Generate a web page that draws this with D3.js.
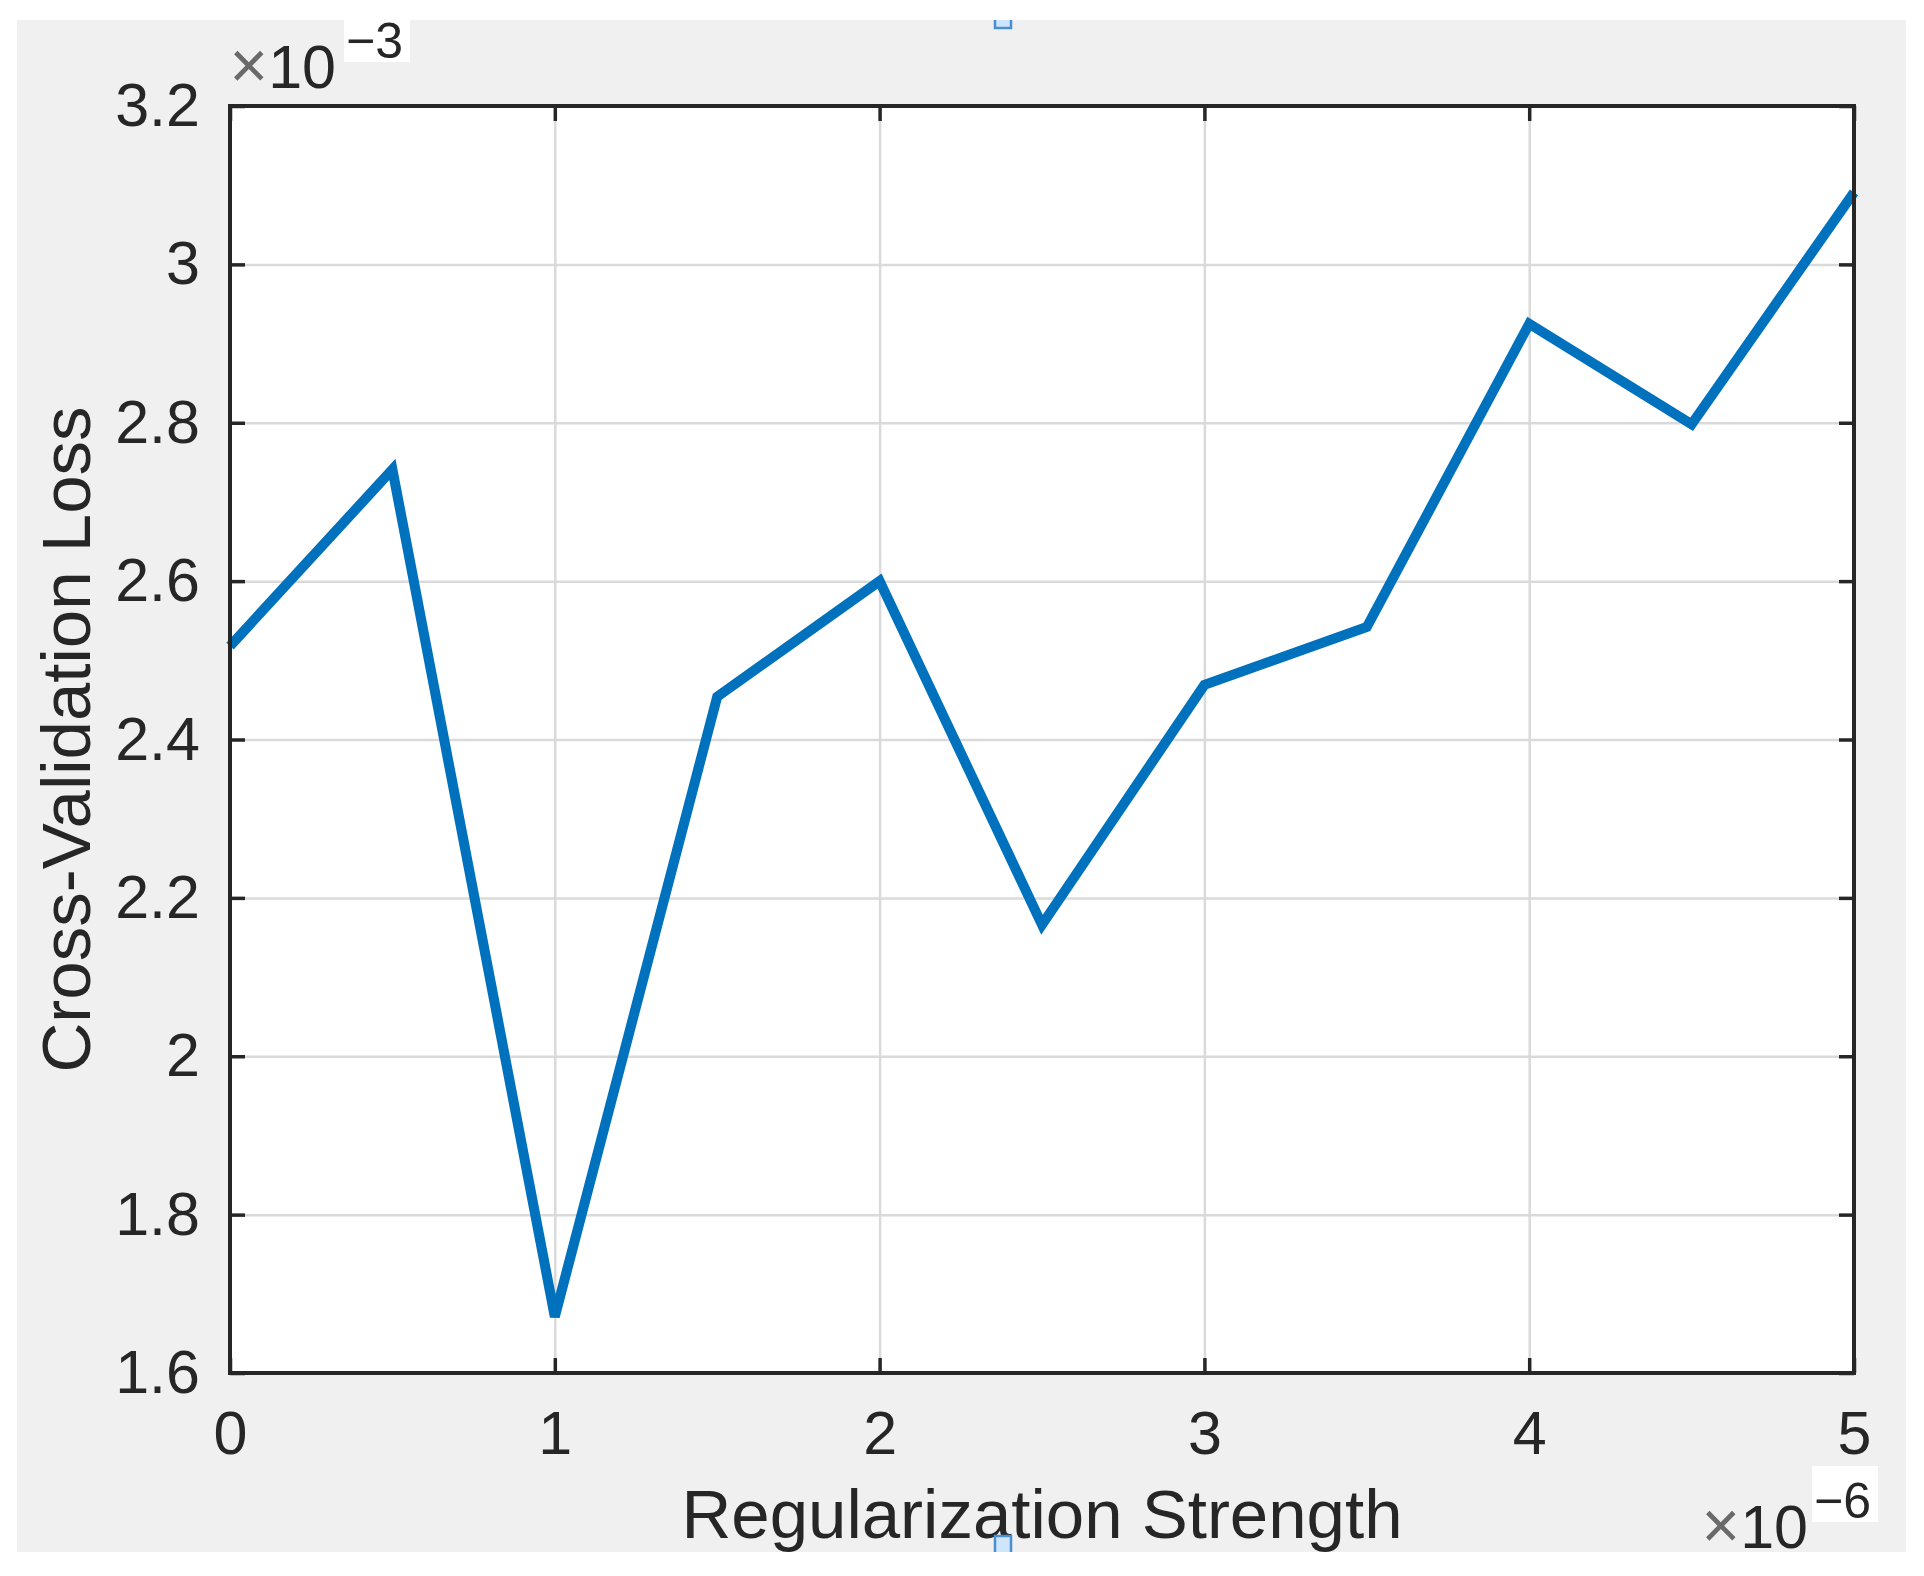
<!DOCTYPE html>
<head>
  <meta charset="utf-8" />
  <script src="https://cdn.jsdelivr.net/npm/d3@7"></script>
  <style>
    body {
      margin: 0;
      background: #fff;
    }
    svg {
      display: block;
      font-family: "Liberation Sans", Arial, Helvetica, sans-serif;
    }
  </style>
</head>

<body>
  <svg width="1924" height="1576"></svg>
  <script>
    // regularization strength (x 1e-6) and cross-validation loss (x 1e-3)
    const strength = [0, 0.5, 1, 1.5, 2, 2.5, 3, 3.5, 4, 4.5, 5];
    const loss = [2.518, 2.741, 1.671, 2.454, 2.600, 2.166, 2.469, 2.542, 2.925, 2.798, 3.091];

    const xTicks = [0, 1, 2, 3, 4, 5];
    const yTicks = [1.6, 1.8, 2, 2.2, 2.4, 2.6, 2.8, 3, 3.2];
    const xTitle = "Regularization Strength";
    const yTitle = "Cross-Validation Loss";
    const xExp = "\u22126";
    const yExp = "\u22123";

    const width = 1924;
    const height = 1576;
    const margin = { top: 106, right: 70, bottom: 203, left: 230 };
    const plotW = width - margin.left - margin.right;
    const plotH = height - margin.top - margin.bottom;
    const ink = "#262626";

    const svg = d3.select("svg");

    // matlab figure background
    svg.append("defs").append("clipPath").attr("id", "fig")
      .append("rect").attr("x", 17).attr("y", 20).attr("width", 1889).attr("height", 1532);
    svg.append("rect")
      .attr("x", 17).attr("y", 20).attr("width", 1889).attr("height", 1532)
      .attr("fill", "#f0f0f0");

    const g = svg.append("g").attr("transform", `translate(${margin.left},${margin.top})`);

    const x = d3.scaleLinear().domain([0, 5]).range([0, plotW]);
    const y = d3.scaleLinear().domain([1.6, 3.2]).range([plotH, 0]);

    g.append("rect").attr("width", plotW).attr("height", plotH).attr("fill", "#fff");

    // grid
    const gridX = g.append("g").attr("transform", `translate(0,${plotH})`)
      .call(d3.axisBottom(x).tickValues(xTicks).tickSize(-plotH).tickFormat(""));
    const gridY = g.append("g")
      .call(d3.axisLeft(y).tickValues(yTicks).tickSize(-plotW).tickFormat(""));
    [gridX, gridY].forEach(a => {
      a.select(".domain").remove();
      a.selectAll("line").attr("stroke", "#dadada").attr("stroke-width", 2.5);
    });

    // data line
    const line = d3.line()
      .x((d, i) => x(strength[i]))
      .y(d => y(d));
    g.append("path")
      .datum(loss)
      .attr("d", line)
      .attr("fill", "none")
      .attr("stroke", "#0072bd")
      .attr("stroke-width", 10)
      .attr("stroke-linejoin", "miter");

    // axes with inward ticks
    const tick = 15;
    const fmt = d3.format("~g");
    const xAxis = g.append("g").attr("transform", `translate(0,${plotH})`)
      .call(d3.axisBottom(x).tickValues(xTicks).tickSize(-tick).tickSizeOuter(0).tickPadding(38).tickFormat(fmt));
    const yAxis = g.append("g")
      .call(d3.axisLeft(y).tickValues(yTicks).tickSize(-tick).tickSizeOuter(0).tickPadding(30).tickFormat(fmt));
    const topAxis = g.append("g")
      .call(d3.axisTop(x).tickValues(xTicks).tickSize(-tick).tickSizeOuter(0).tickFormat(""));
    const rightAxis = g.append("g").attr("transform", `translate(${plotW},0)`)
      .call(d3.axisRight(y).tickValues(yTicks).tickSize(-tick).tickSizeOuter(0).tickFormat(""));
    [xAxis, yAxis, topAxis, rightAxis].forEach(a => {
      a.select(".domain").remove();
      a.selectAll("line").attr("stroke", ink).attr("stroke-width", 3.5);
      a.selectAll("text")
        .attr("fill", ink)
        .attr("font-size", 61)
        .attr("font-family", "'Liberation Sans', Arial, sans-serif");
    });

    // box
    g.append("rect").attr("width", plotW).attr("height", plotH)
      .attr("fill", "none").attr("stroke", ink).attr("stroke-width", 4);

    // axis titles
    svg.append("text")
      .attr("x", margin.left + plotW / 2).attr("y", 1538)
      .attr("text-anchor", "middle")
      .attr("font-size", 69).attr("fill", ink)
      .text(xTitle);
    svg.append("text")
      .attr("transform", `translate(90,${margin.top + plotH / 2}) rotate(-90)`)
      .attr("text-anchor", "middle")
      .attr("font-size", 69).attr("fill", ink)
      .text(yTitle);

    // exponent labels
    function expLabel(xr, base, expo, boxX) {
      svg.append("rect")
        .attr("x", boxX).attr("y", base - 82).attr("width", 66).attr("height", 56)
        .attr("fill", "#fff");
      const t = svg.append("text")
        .attr("x", xr).attr("y", base)
        .attr("text-anchor", "end")
        .attr("font-size", 61).attr("fill", ink);
      t.append("tspan").attr("fill", "#6a6a6a").attr("font-size", 66).text("\u00d7");
      t.append("tspan").text("10");
      svg.append("text")
        .attr("x", boxX + 2).attr("y", base - 30)
        .attr("font-size", 50).attr("fill", ink)
        .text(expo);
    }
    svg.append("rect").attr("x", 17).attr("y", 0).attr("width", 1889).attr("height", 20).attr("fill", "#fff");
    expLabel(336, 88, yExp, 344);
    expLabel(1808, 1548, xExp, 1812);

    // selection handles
    const handles = svg.append("g").attr("clip-path", "url(#fig)");
    [10, 1536].forEach(hy => {
      handles.append("rect")
        .attr("x", 995).attr("y", hy).attr("width", 16).attr("height", 18)
        .attr("fill", "#cfe5fb").attr("stroke", "#4a90d0").attr("stroke-width", 2.5);
    });
  </script>
</body>
